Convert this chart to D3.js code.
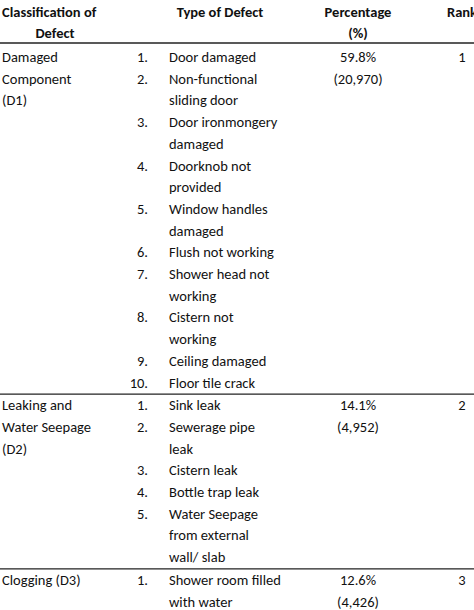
<!DOCTYPE html>
<html lang="en">
<head>
<meta charset="UTF-8">
<script src="https://d3js.org/d3.v7.min.js"></script>
<style>
  body { margin: 0; background: white; overflow: hidden; }
  text { font-family: Carlito, 'Liberation Sans', sans-serif; font-size: 14.5px; fill: #111; }
  .hd { font-weight: bold; }
</style>
</head>
<body>
<svg id="tbl" width="474" height="610"></svg>
<script>
// data
const headers = [["Classification of", "Defect"], ["Type of Defect"], ["Percentage", "(%)"], ["Rank"]];
const classes = [["Damaged", "Component", "(D1)"], ["Leaking and", "Water Seepage", "(D2)"], ["Clogging (D3)"]];
const defects = [
  [["Door damaged"], ["Non-functional", "sliding door"], ["Door ironmongery", "damaged"], ["Doorknob not", "provided"],
   ["Window handles", "damaged"], ["Flush not working"], ["Shower head not", "working"], ["Cistern not", "working"],
   ["Ceiling damaged"], ["Floor tile crack"]],
  [["Sink leak"], ["Sewerage pipe", "leak"], ["Cistern leak"], ["Bottle trap leak"], ["Water Seepage", "from external", "wall/ slab"]],
  [["Shower room filled", "with water"]]
];
const percents = ["59.8%", "14.1%", "12.6%"];
const counts = ["(20,970)", "(4,952)", "(4,426)"];
const ranks = ["1", "2", "3"];

const svg = d3.select("#tbl");
const lh = 21.7;
const y = d3.scaleLinear().domain([0, 1]).range([0, lh]); // line index -> y
const col = { cls: 2, num: 148, type: 169, pct: 358, rank: 462 };

// header
svg.append("text").attr("class", "hd").attr("x", col.cls).attr("y", 17).text(headers[0][0]);
svg.append("text").attr("class", "hd").attr("x", 55).attr("y", 38).attr("text-anchor", "middle").text(headers[0][1]);
svg.append("text").attr("class", "hd").attr("x", 220).attr("y", 17).attr("text-anchor", "middle").text(headers[1][0]);
svg.append("text").attr("class", "hd").attr("x", col.pct).attr("y", 17).attr("text-anchor", "middle").text(headers[2][0]);
svg.append("text").attr("class", "hd").attr("x", col.pct).attr("y", 38).attr("text-anchor", "middle").text(headers[2][1]);
svg.append("text").attr("class", "hd").attr("x", col.rank).attr("y", 17).attr("text-anchor", "middle").text(headers[3][0]);

const rule = yy => svg.append("line").attr("x1", 0).attr("x2", 474).attr("y1", yy).attr("y2", yy)
  .attr("stroke", "#222").attr("stroke-width", 1.3);
rule(43);

let curY = 47;
defects.forEach((group, gi) => {
  const base = curY + 15;
  classes[gi].forEach((t, i) => svg.append("text").attr("x", col.cls).attr("y", base + y(i)).text(t));
  svg.append("text").attr("x", col.pct).attr("y", base).attr("text-anchor", "middle").text(percents[gi]);
  svg.append("text").attr("x", col.pct).attr("y", base + y(1)).attr("text-anchor", "middle").text(counts[gi]);
  svg.append("text").attr("x", col.rank).attr("y", base).attr("text-anchor", "middle").text(ranks[gi]);
  let line = 0;
  group.forEach((d, di) => {
    svg.append("text").attr("x", col.num).attr("y", base + y(line)).attr("text-anchor", "end").text((di + 1) + ".");
    d.forEach(t => { svg.append("text").attr("x", col.type).attr("y", base + y(line)).text(t); line++; });
  });
  curY = curY + y(line) + 1;
  if (gi < defects.length - 1) rule(curY - 1);
});
</script>
</body>
</html>
